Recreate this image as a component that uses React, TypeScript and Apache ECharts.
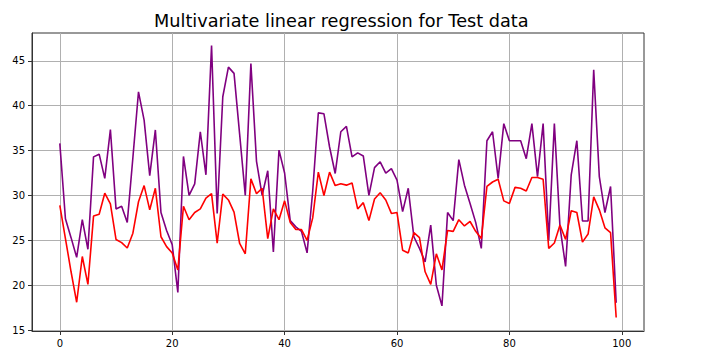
import React, { useEffect, useRef } from "react";
import * as echarts from "echarts";

const titleText = "Multivariate linear regression for Test data";

const actualValues = [
  35.8, 27.4, 25.3, 23.1, 27.3, 24.0, 34.3, 34.6, 31.9, 37.35,
  28.5, 28.8, 27.0, 34.2, 41.55, 38.4, 32.2, 37.3, 28.1, 26.1,
  24.5, 19.2, 34.35, 30.0, 31.3, 37.1, 32.3, 46.7, 28.0, 41.0,
  44.3, 43.6, 36.8, 30.0, 44.7, 33.8, 30.0, 32.75, 23.7, 35.05,
  32.5, 27.2, 26.5, 26.0, 23.6, 30.5, 39.2, 39.1, 35.4, 32.45,
  37.1, 37.7, 34.3, 34.75, 34.4, 30.0, 33.1, 33.75, 32.5, 33.0,
  31.7, 28.2, 30.8, 25.4, 24.1, 22.6, 26.7, 20.0, 17.7, 28.1,
  27.2, 34.0, 31.15, 29.1, 27.0, 24.1, 36.1, 37.1, 31.9, 38.0,
  36.1, 36.1, 36.1, 34.1, 38.0, 32.1, 38.0, 25.0, 38.0, 26.5,
  22.1, 32.3, 36.1, 27.15, 27.15, 44.0, 32.1, 28.1, 31.0, 18.05,
];

const predictedValues = [
  28.9, 25.2, 21.5, 18.1, 23.2, 20.1, 27.7, 27.9, 30.25, 29.05,
  25.1, 24.75, 24.15, 25.8, 29.3, 31.1, 28.4, 30.8, 25.4, 24.3,
  23.6, 21.7, 28.8, 27.3, 28.1, 28.5, 29.7, 30.2, 24.7, 30.15,
  29.5, 28.15, 24.65, 23.5, 31.85, 30.2, 30.8, 25.2, 28.5, 27.3,
  29.4, 27.0, 26.2, 26.2, 25.0, 27.5, 32.6, 30.0, 32.6, 31.1,
  31.3, 31.15, 31.4, 28.5, 29.2, 27.2, 29.6, 30.3, 29.5, 28.0,
  28.1, 23.9, 23.6, 25.85, 25.3, 21.5, 20.1, 23.5, 21.7, 26.1,
  26.0, 27.3, 26.6, 27.1, 26.0, 25.2, 31.0, 31.5, 31.8, 29.4,
  29.1, 30.9, 30.8, 30.5, 32.0, 32.0, 31.8, 24.1, 24.7, 26.7,
  25.1, 28.3, 28.1, 24.8, 25.7, 29.85, 28.4, 26.4, 25.85, 16.4,
];

const xTicks = [0, 20, 40, 60, 80, 100];
const yTicks = [15, 20, 25, 30, 35, 40, 45];

const FONT = "DejaVu Sans";

export default function App() {
  const ref = useRef<HTMLDivElement>(null);

  useEffect(() => {
    if (!ref.current) return;
    const chart = echarts.init(ref.current, null, { renderer: "svg" });
    const toPairs = (arr: number[]) => arr.map((v, i) => [i, v]);
    const axisLabel = { color: "#000", fontFamily: FONT, fontSize: 10 };
    chart.setOption({
      animation: false,
      backgroundColor: "#fff",
      title: {
        text: titleText,
        left: 149,
        top: 7,
        textStyle: { fontFamily: FONT, fontSize: 17.7, fontWeight: "normal", color: "#000" },
      },
      grid: {
        left: 32,
        right: 77,
        top: 33,
        bottom: 32,
        show: true,
        borderColor: "#333",
        borderWidth: 1,
        backgroundColor: "transparent",
      },
      xAxis: {
        type: "value",
        min: -4.95,
        max: 103.95,
        axisLine: { show: true, onZero: false, lineStyle: { color: "#333", width: 1 } },
        axisTick: { show: true, length: 4, lineStyle: { color: "#333" }, customValues: xTicks },
        axisLabel: { ...axisLabel, margin: 7, customValues: xTicks },
        splitLine: { show: true, lineStyle: { color: "#b0b0b0", width: 1 } },
      },
      yAxis: {
        type: "value",
        min: 14.9,
        max: 48.1,
        axisLine: { show: true, onZero: false, lineStyle: { color: "#333", width: 1 } },
        axisTick: { show: true, length: 4, lineStyle: { color: "#333" }, customValues: yTicks },
        axisLabel: { ...axisLabel, margin: 7, customValues: yTicks },
        splitLine: { show: true, lineStyle: { color: "#b0b0b0", width: 1 } },
      },
      series: [
        {
          name: "Actual",
          type: "line",
          data: toPairs(actualValues),
          symbol: "none",
          lineStyle: { color: "purple", width: 1.6 },
          itemStyle: { color: "purple" },
        },
        {
          name: "Predicted",
          type: "line",
          data: toPairs(predictedValues),
          symbol: "none",
          lineStyle: { color: "red", width: 1.6 },
          itemStyle: { color: "red" },
        },
      ],
    });
    return () => chart.dispose();
  }, []);

  return (
    <div
      ref={ref}
      style={{ position: "absolute", left: 0, top: 0, width: 721, height: 363 }}
    />
  );
}
